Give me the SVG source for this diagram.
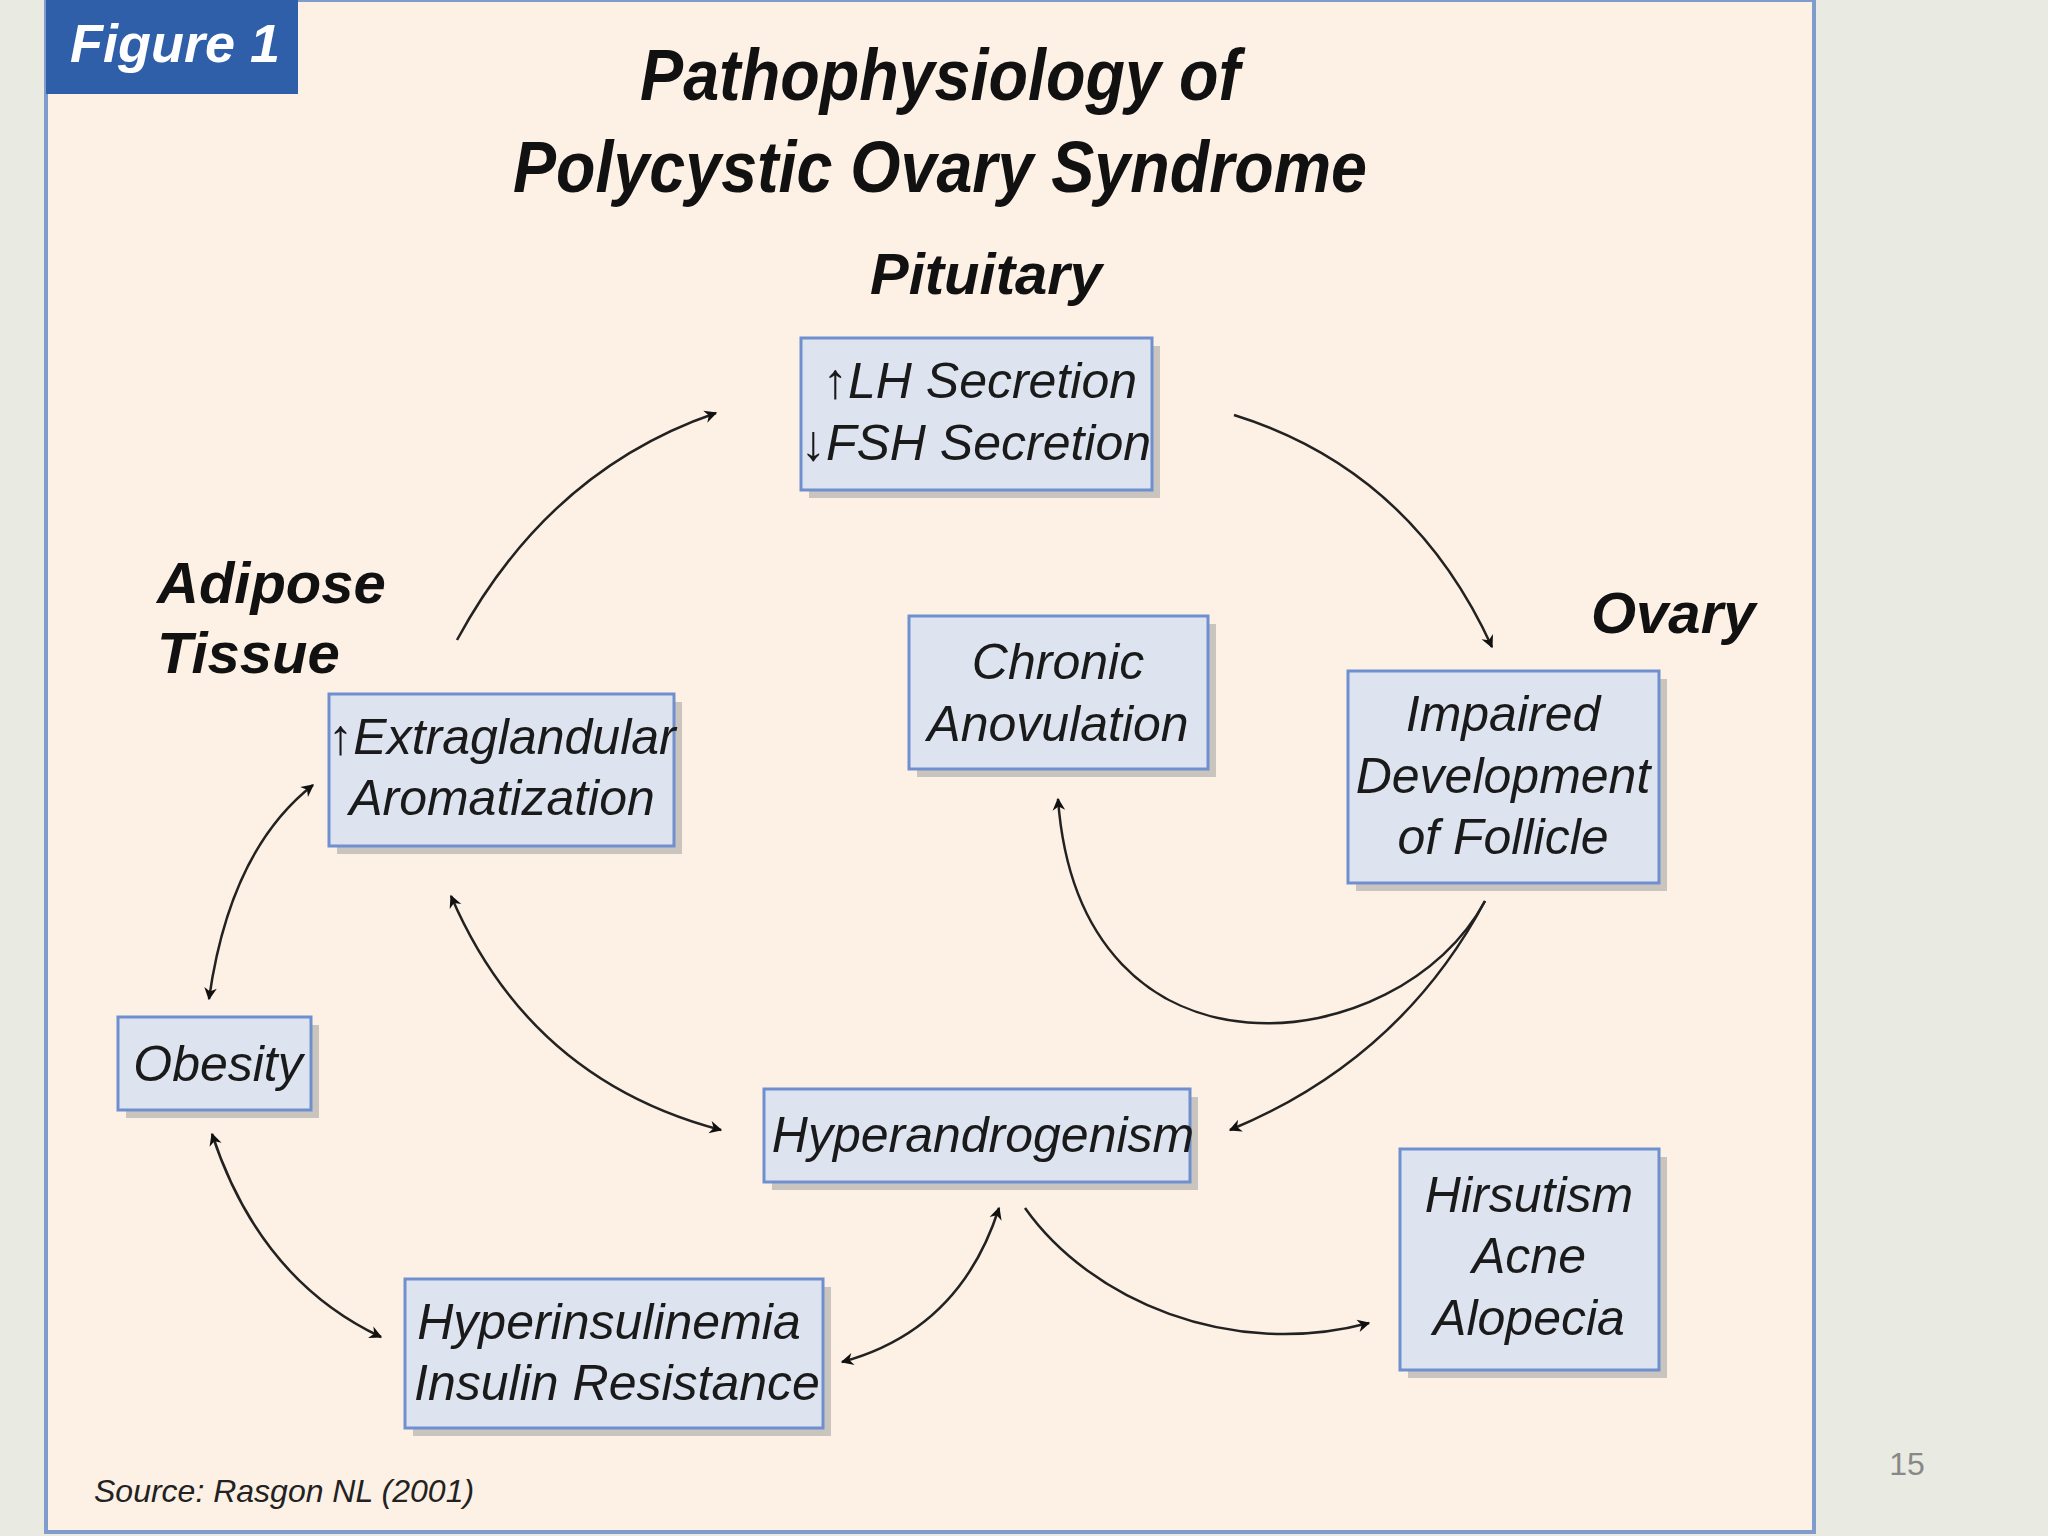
<svg xmlns="http://www.w3.org/2000/svg" width="2048" height="1536" viewBox="0 0 2048 1536">
<style>
.box{fill:#dde4f0;stroke:#6f8fcf;stroke-width:3}
.sh{fill:#c9c4bd}
.t{font-family:"Liberation Sans",Arial,sans-serif;font-style:italic;font-size:50px;fill:#1a1a1a;text-anchor:middle}
.h{font-family:"Liberation Sans",Arial,sans-serif;font-style:italic;font-weight:bold;fill:#111}
.c{fill:none;stroke:#222;stroke-width:2.5}
</style>
<defs>
<marker id="a" viewBox="0 0 10 10" refX="9" refY="5" markerWidth="7" markerHeight="7" orient="auto-start-reverse" markerUnits="userSpaceOnUse" style="overflow:visible">
<path d="M0,0 L10,5 L0,10 L3,5 z" fill="#111" transform="scale(1.8) translate(-4,-2.2)"/>
</marker>
</defs>
<rect width="2048" height="1536" fill="#e9ebe3"/>
<rect x="46" y="0" width="1768" height="1532" fill="#fdf0e4" stroke="#7f9ccc" stroke-width="4"/>
<rect x="46" y="0" width="252" height="94" fill="#2f5fa8"/>
<text x="70" y="62" class="h" font-size="54" fill="#fff" style="fill:#fff">Figure 1</text>
<text x="940" y="100" class="h" font-size="72" text-anchor="middle" textLength="600" lengthAdjust="spacingAndGlyphs">Pathophysiology of</text>
<text x="940" y="192" class="h" font-size="72" text-anchor="middle" textLength="854" lengthAdjust="spacingAndGlyphs">Polycystic Ovary Syndrome</text>
<text x="986" y="294" class="h" font-size="58" text-anchor="middle">Pituitary</text>
<text x="157" y="603" class="h" font-size="58">Adipose</text>
<text x="157" y="673" class="h" font-size="58">Tissue</text>
<text x="1591" y="633" class="h" font-size="58">Ovary</text>
<text x="94" y="1502" font-family="Liberation Sans,Arial,sans-serif" font-style="italic" font-size="32" fill="#222">Source: Rasgon NL (2001)</text>
<text x="1907" y="1475" font-family="Liberation Sans,Arial,sans-serif" font-size="32" fill="#888" text-anchor="middle">15</text>
<g id="connectors">
<path class="c" d="M457,640 Q549,470 716,413" marker-end="url(#a)"/>
<path class="c" d="M1234,415 Q1411,470 1492,647" marker-end="url(#a)"/>
<path class="c" d="M1485,901 C1400,1060 1080,1100 1058,799" marker-end="url(#a)"/>
<path class="c" d="M1485,901 Q1400,1060 1230,1130" marker-end="url(#a)"/>
<path class="c" d="M451,896 Q530,1080 721,1130" marker-start="url(#a)" marker-end="url(#a)"/>
<path class="c" d="M209,999 Q230,850 313,785" marker-start="url(#a)" marker-end="url(#a)"/>
<path class="c" d="M212,1134 Q260,1280 381,1337" marker-start="url(#a)" marker-end="url(#a)"/>
<path class="c" d="M842,1362 Q960,1330 999,1208" marker-start="url(#a)" marker-end="url(#a)"/>
<path class="c" d="M1025,1208 C1090,1300 1230,1360 1369,1323" marker-end="url(#a)"/>
</g>
<g id="lh"><rect class="sh" x="809" y="346" width="351" height="152"/><rect class="box" x="801" y="338" width="351" height="152"/>
<text class="t" x="980" y="398">↑LH Secretion</text><text class="t" x="976" y="460">↓FSH Secretion</text></g>
<g id="chronic"><rect class="sh" x="917" y="624" width="299" height="153"/><rect class="box" x="909" y="616" width="299" height="153"/>
<text class="t" x="1058" y="679">Chronic</text><text class="t" x="1058" y="741">Anovulation</text></g>
<g id="impaired"><rect class="sh" x="1356" y="679" width="311" height="212"/><rect class="box" x="1348" y="671" width="311" height="212"/>
<text class="t" x="1503" y="731">Impaired</text><text class="t" x="1503" y="793">Development</text><text class="t" x="1503" y="854">of Follicle</text></g>
<g id="extra"><rect class="sh" x="337" y="702" width="345" height="152"/><rect class="box" x="329" y="694" width="345" height="152"/>
<text class="t" x="502" y="754">↑Extraglandular</text><text class="t" x="502" y="815">Aromatization</text></g>
<g id="obesity"><rect class="sh" x="126" y="1025" width="193" height="93"/><rect class="box" x="118" y="1017" width="193" height="93"/>
<text class="t" x="218" y="1081">Obesity</text></g>
<g id="hyperandro"><rect class="sh" x="772" y="1097" width="426" height="93"/><rect class="box" x="764" y="1089" width="426" height="93"/>
<text class="t" x="983" y="1152">Hyperandrogenism</text></g>
<g id="hirsutism"><rect class="sh" x="1408" y="1157" width="259" height="221"/><rect class="box" x="1400" y="1149" width="259" height="221"/>
<text class="t" x="1529" y="1212">Hirsutism</text><text class="t" x="1529" y="1273">Acne</text><text class="t" x="1529" y="1335">Alopecia</text></g>
<g id="hyperins"><rect class="sh" x="413" y="1287" width="418" height="149"/><rect class="box" x="405" y="1279" width="418" height="149"/>
<text class="t" x="609" y="1339">Hyperinsulinemia</text><text class="t" x="617" y="1400">Insulin Resistance</text></g>
</svg>
